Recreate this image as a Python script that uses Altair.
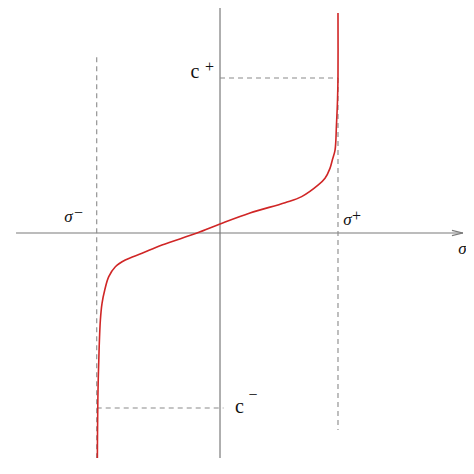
import altair as alt
import pandas as pd

# Curve c(sigma) (sigma units: sigma+ = 1)
curve_sigma = [-1.040, -1.038, -1.034, -1.025, -1.014, -1.000, -0.977, -0.943, -0.887,
               -0.803, -0.661, -0.492, -0.195, 0.0, 0.254, 0.551, 0.692, 0.833,
               0.890, 0.932, 0.952, 0.975, 0.987, 0.996, 1.000, 1.000]
curve_c = [-2.00, -1.669, -1.331, -0.992, -0.737, -0.596, -0.483, -0.370, -0.286,
           -0.229, -0.172, -0.102, 0.0, 0.076, 0.169, 0.257, 0.308, 0.407,
           0.464, 0.548, 0.619, 0.703, 0.915, 1.127, 1.314, 1.864]

sigma_minus = -1.045
sigma_plus = 1.0
c_plus = 1.314
c_minus = -1.483

X_DOM = [-1.797, 2.085]
Y_DOM = [-1.907, 1.907]

xs = alt.Scale(domain=X_DOM, nice=False, zero=False)
ys = alt.Scale(domain=Y_DOM, nice=False, zero=False)

curve_df = pd.DataFrame({"s": curve_sigma, "c": curve_c, "i": range(len(curve_sigma))})

# axes (solid gray) and open arrow head on the sigma axis
axes_df = pd.DataFrame({
    "x": [-1.729, 0.0, 1.966, 1.966],
    "x2": [2.059, 0.0, 2.059, 2.059],
    "y": [0.0, -1.907, 0.022, -0.022],
    "y2": [0.0, 1.907, 0.0, 0.0],
})

# dashed guides
dash_df = pd.DataFrame({
    "x": [sigma_minus, sigma_plus, 0.0, sigma_minus],
    "x2": [sigma_minus, sigma_plus, sigma_plus, 0.03],
    "y": [1.49, c_plus, c_plus, c_minus],
    "y2": [-1.907, -1.67, c_plus, c_minus],
})

main_lbl = pd.DataFrame({
    "x": [-1.284, 1.081, 2.055],
    "y": [0.093, 0.068, -0.178],
    "t": ["σ", "σ", "σ"],
})
c_lbl = pd.DataFrame({
    "x": [-0.212, 0.165],
    "y": [1.314, -1.525],
    "t": ["c", "c"],
})
sup_lbl = pd.DataFrame({
    "x": [-1.199, 1.157, -0.089, 0.280],
    "y": [0.169, 0.140, 1.411, -1.373],
    "t": ["−", "+", "+", "−"],
})

enc_seg = dict(
    x=alt.X("x:Q", scale=xs, axis=None),
    x2="x2:Q",
    y=alt.Y("y:Q", scale=ys, axis=None),
    y2="y2:Q",
)

axes = alt.Chart(axes_df).mark_rule(color="#7a7a7a", strokeWidth=1.2).encode(**enc_seg)
dashes = alt.Chart(dash_df).mark_rule(color="#8a8a8a", strokeWidth=1.1, strokeDash=[5, 4]).encode(**enc_seg)

line = alt.Chart(curve_df).mark_line(
    color="#d02626", strokeWidth=1.6, clip=True, interpolate="catmull-rom"
).encode(
    x=alt.X("s:Q", scale=xs, axis=None),
    y=alt.Y("c:Q", scale=ys, axis=None),
    order="i:Q",
)

sig_text = alt.Chart(main_lbl).mark_text(
    font="Liberation Serif", fontStyle="italic", fontSize=17, baseline="alphabetic",
    align="center", color="#111111"
).encode(x=alt.X("x:Q", scale=xs, axis=None), y=alt.Y("y:Q", scale=ys, axis=None), text="t:N")

c_text = alt.Chart(c_lbl).mark_text(
    font="Liberation Serif", fontSize=20, baseline="alphabetic", align="center",
    color="#111111"
).encode(x=alt.X("x:Q", scale=xs, axis=None), y=alt.Y("y:Q", scale=ys, axis=None), text="t:N")

sup_text = alt.Chart(sup_lbl).mark_text(
    font="Liberation Serif", fontSize=16, baseline="middle", align="center",
    color="#111111"
).encode(x=alt.X("x:Q", scale=xs, axis=None), y=alt.Y("y:Q", scale=ys, axis=None), text="t:N")

chart = alt.layer(axes, dashes, line, sig_text, c_text, sup_text).properties(
    width=458, height=450,
    autosize=alt.AutoSizeParams(type="none"),
    padding=0,
    view=alt.ViewBackground(stroke=None, strokeWidth=0),
).configure_view(stroke=None, strokeWidth=0).configure(background="white")

chart.save("out.html", embed_options={"renderer": "svg", "actions": False})
